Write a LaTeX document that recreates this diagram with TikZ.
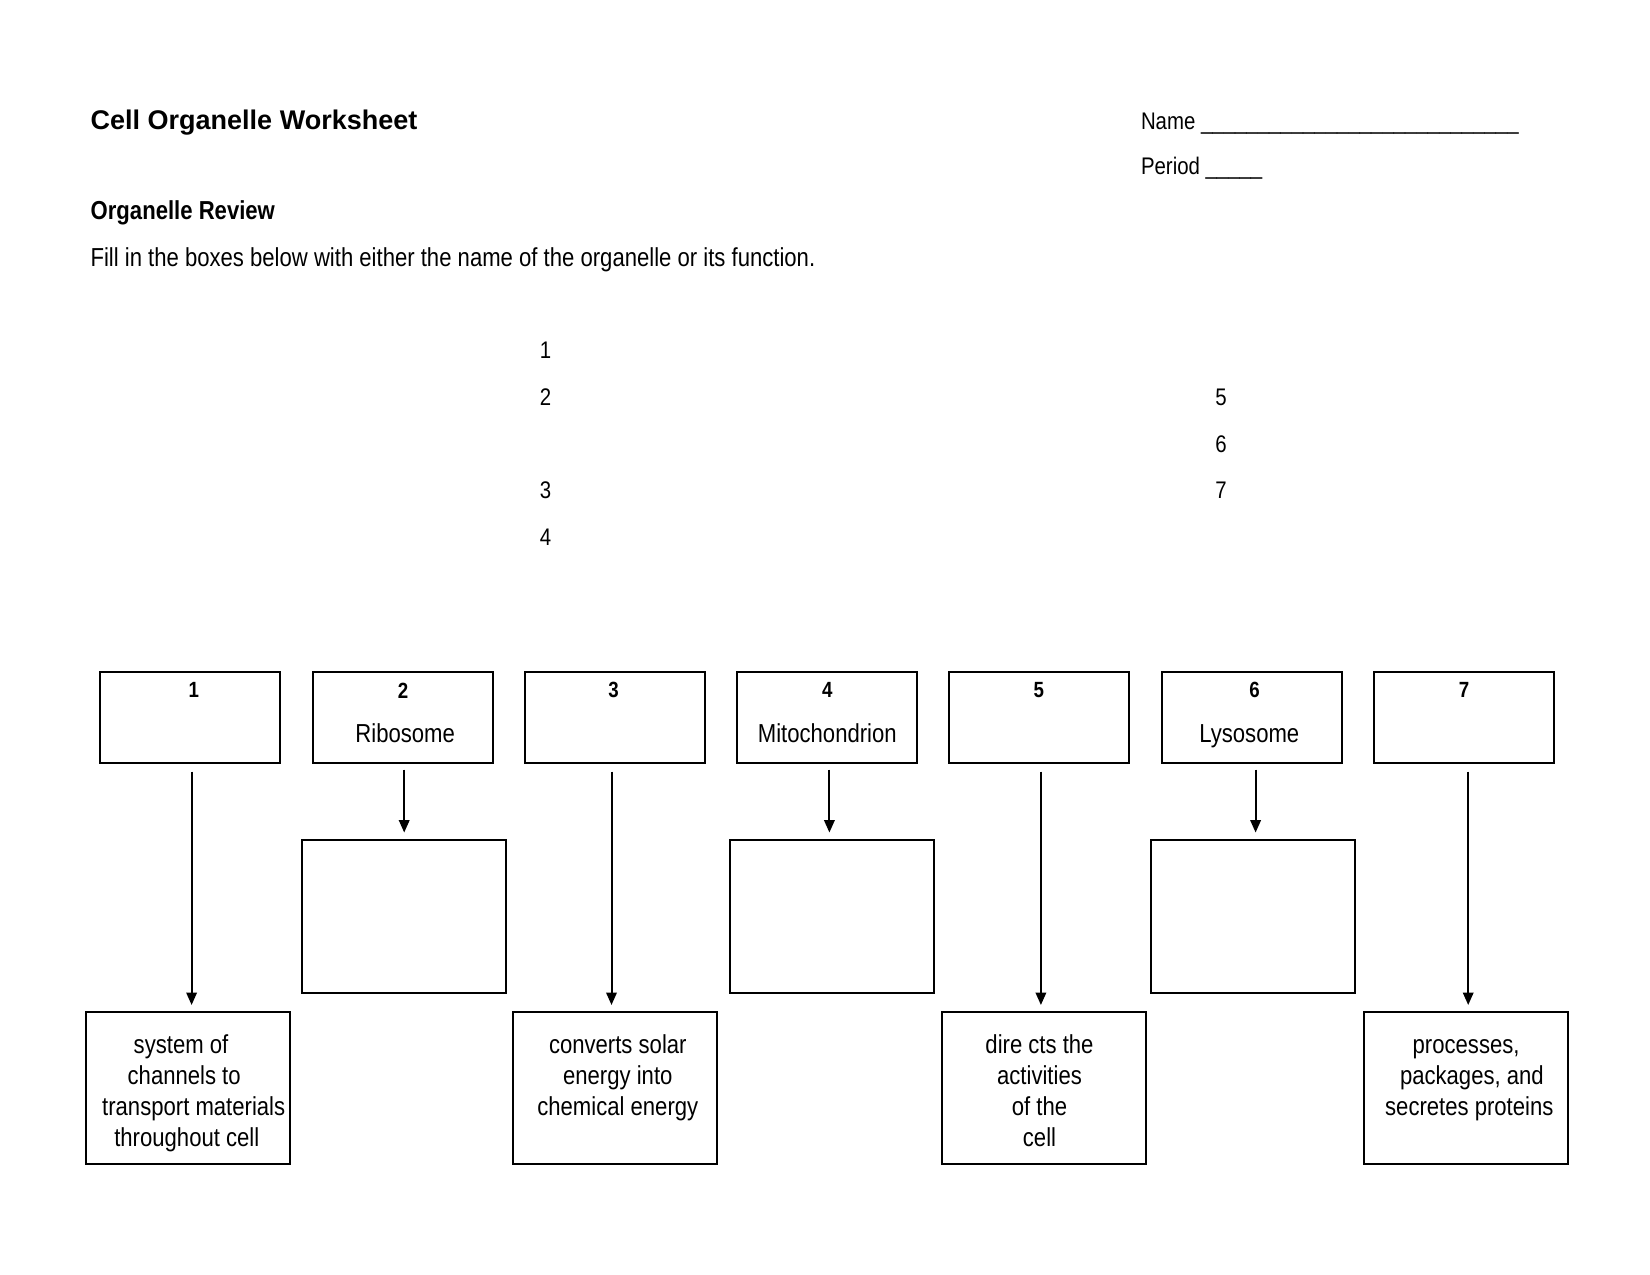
\documentclass[tikz,border=0pt]{standalone}
\usepackage{fontspec}
\setmainfont{Liberation Sans}
\newfontfamily\nar[FakeStretch=0.85]{Liberation Sans}
\usetikzlibrary{arrows.meta}
\newcommand\Lpad[2]{\hbox{\kern#1\relax #2}}
\newcommand\Rpad[2]{\hbox{#2\kern#1\relax}}
\begin{document}
\begin{tikzpicture}[x=1pt,y=-1pt,
  topbox/.style={draw=black, line width=2pt, minimum width=180pt, minimum height=91pt, inner sep=0pt, outer sep=0pt},
  bigbox/.style={draw=black, line width=2pt, minimum width=204pt, minimum height=152.5pt, inner sep=0pt, outer sep=0pt},
  txt/.style={inner sep=0pt, outer sep=0pt, font=\nar\fontsize{26}{30.9}\selectfont},
  small/.style={inner sep=0pt, outer sep=0pt, font=\nar\fontsize{24}{28}\selectfont},
  lbl/.style={inner sep=0pt, outer sep=0pt, font=\nar\bfseries\fontsize{22}{26}\selectfont},
  arr/.style={line width=2pt, -{Triangle[width=10.5pt,length=12.5pt]}},
]
\useasboundingbox[fill=white] (0,0) rectangle (1650,1275);

% header
\node[anchor=base west, inner sep=0pt, font=\bfseries\fontsize{27}{32}\selectfont] (title) at (90.5,129.3) {Cell Organelle Worksheet};
\node[anchor=base west, inner sep=0pt, font=\nar\bfseries\fontsize{26}{31}\selectfont] (review) at (90.5,219.3) {Organelle Review};
\node[anchor=base west, txt] (instr) at (90.5,266) {Fill in the boxes below with either the name of the organelle or its function.};
\node[anchor=base west, small] (name) at (1141,129.3) {Name \_\_\_\_\_\_\_\_\_\_\_\_\_\_\_\_\_\_\_\_\_\_\_\_\_\_\_\_};
\node[anchor=base west, small] (period) at (1141,174) {Period \_\_\_\_\_};

% numbers
\node[small] (n1) at (545.5,350.3) {1};
\node[small] (n2) at (545.5,397.5) {2};
\node[small] (n3) at (545.5,490.3) {3};
\node[small] (n4) at (545.5,537) {4};
\node[small] (n5) at (1221,397.8) {5};
\node[small] (n6) at (1221,444.1) {6};
\node[small] (n7) at (1221,490.4) {7};

% top boxes
\node[topbox] (t1) at (190,717.5) {};
\node[topbox] (t2) at (402.6,717.5) {};
\node[topbox] (t3) at (615.2,717.5) {};
\node[topbox] (t4) at (826.8,717.5) {};
\node[topbox] (t5) at (1039.4,717.5) {};
\node[topbox] (t6) at (1252,717.5) {};
\node[topbox] (t7) at (1463.5,717.5) {};

\node[lbl] (l1) at (193.7,690.4) {1};
\node[lbl] (l2) at (403.1,690.4) {2};
\node[lbl] (l3) at (613.6,690.4) {3};
\node[lbl] (l4) at (827.3,690.4) {4};
\node[lbl] (l5) at (1038.8,690.4) {5};
\node[lbl] (l6) at (1254.6,690.4) {6};
\node[lbl] (l7) at (1464,690.4) {7};

\node[txt, anchor=base] (w2) at (405.2,742) {Ribosome};
\node[txt, anchor=base] (w4) at (827.3,742) {Mitochondrion};
\node[txt, anchor=base] (w6) at (1249.3,742) {Lysosome};

% middle boxes
\node[bigbox] (m2) at (404.2,916.3) {};
\node[bigbox] (m4) at (832,916.3) {};
\node[bigbox] (m6) at (1253,916.3) {};

% bottom boxes
\node[bigbox] (b1) at (188.4,1087.75) {};
\node[bigbox] (b3) at (615.2,1087.75) {};
\node[bigbox] (b5) at (1043.5,1087.75) {};
\node[bigbox] (b7) at (1466,1087.75) {};

\node[txt, align=center, anchor=north] (d1) at (188.4,1034.3) {\rule{0pt}{19pt}\Rpad{14.8pt}{system of}\\ \Rpad{8.4pt}{channels to}\\ \Lpad{10.6pt}{transport materials}\\ \Rpad{3.2pt}{throughout cell}};
\node[txt, align=center, anchor=north] (d3) at (617.8,1034.3) {\rule{0pt}{19pt}converts solar\\ energy into\\ chemical energy};
\node[txt, align=center, anchor=north] (d5) at (1039.5,1034.3) {\rule{0pt}{19pt}dire cts the\\ activities\\ of the\\ cell};
\node[txt, align=center, anchor=north] (d7) at (1469.3,1034.3) {\rule{0pt}{19pt}\Rpad{6.4pt}{processes,}\\ \Lpad{5.2pt}{packages, and}\\ secretes proteins};

% arrows
\draw[arr, shorten <=8.5pt, shorten >=6.5pt] ([xshift=1.6pt]t1.south) -- ([xshift=1.6pt]t1.south |- b1.north);
\draw[arr, shorten <=6.5pt, shorten >=7.5pt] ([xshift=1.6pt]t2.south) -- ([xshift=1.6pt]t2.south |- m2.north);
\draw[arr, shorten <=8.5pt, shorten >=6.5pt] ([xshift=-3.7pt]t3.south) -- ([xshift=-3.7pt]t3.south |- b3.north);
\draw[arr, shorten <=6.5pt, shorten >=7.5pt] ([xshift=2.6pt]t4.south) -- ([xshift=2.6pt]t4.south |- m4.north);
\draw[arr, shorten <=8.5pt, shorten >=6.5pt] ([xshift=1.5pt]t5.south) -- ([xshift=1.5pt]t5.south |- b5.north);
\draw[arr, shorten <=6.5pt, shorten >=7.5pt] ([xshift=3.6pt]t6.south) -- ([xshift=3.6pt]t6.south |- m6.north);
\draw[arr, shorten <=8.5pt, shorten >=6.5pt] ([xshift=4.7pt]t7.south) -- ([xshift=4.7pt]t7.south |- b7.north);
\end{tikzpicture}
\end{document}
